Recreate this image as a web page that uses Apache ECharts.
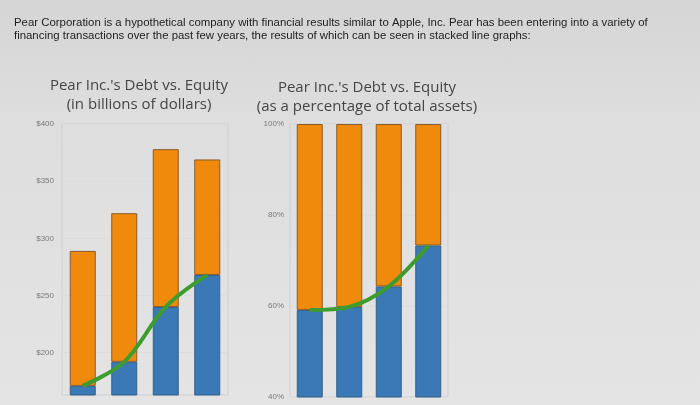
<!DOCTYPE html>
<html>
<head>
<meta charset="utf-8">
<script src="https://cdn.jsdelivr.net/npm/echarts@6/dist/echarts.min.js"></script>
<style>
  html, body { margin: 0; padding: 0; }
  body { background: linear-gradient(180deg, #d5d5d5 0%, #dedede 30%, #e4e4e4 100%); }
  #main { width: 700px; height: 405px; }
</style>
</head>
<body>
<div id="main"></div>
<script>
// data
var years = ['Y1', 'Y2', 'Y3', 'Y4'];
var debtDollars = [171, 192, 240, 268];     // blue, billions
var equityDollars = [118, 130, 138, 101];   // orange, billions
var debtPct = [59.1, 59.8, 64.3, 73.3];     // blue, % of total assets
var equityPct = [40.9, 40.2, 35.7, 26.7];   // orange
var dollarTicks = [200, 250, 300, 350, 400];
var introText = 'Pear Corporation is a hypothetical company with financial results similar to Apple, Inc. Pear has been entering into a variety of\n' +
  'financing transactions over the past few years, the results of which can be seen in stacked line graphs:';

var orange = '#ef8a0c', blue = '#3b79b6', green = '#3e9c2f';
var labelStyle = { color: '#7a7a7a', fontSize: 8, fontFamily: 'Liberation Sans' };

function barSeries(idx, stack, data, color, border) {
  return {
    type: 'bar', xAxisIndex: idx, yAxisIndex: idx, stack: stack,
    data: data, barWidth: 26, silent: true,
    itemStyle: { color: color, borderColor: border, borderWidth: 1 }
  };
}
function lineSeries(idx, data) {
  return {
    type: 'line', xAxisIndex: idx, yAxisIndex: idx, data: data,
    smooth: 0.35, symbol: 'none', z: 5, silent: true,
    lineStyle: { color: green, width: 4 }
  };
}
function gridBox(left, width, bottom) {
  return { left: left, width: width, top: 124, bottom: bottom, show: true,
    borderColor: '#cfcfcf', borderWidth: 1, backgroundColor: 'transparent' };
}

var chart = echarts.init(document.getElementById('main'), null, { renderer: 'canvas' });
var option = {
  animation: false,
  title: [
    { text: introText, left: 9, top: 11,
      textStyle: { fontSize: 11.4, fontWeight: 'normal', color: '#222', fontFamily: 'Liberation Sans', lineHeight: 13 } },
    { text: "Pear Inc.'s Debt vs. Equity\n(in billions of dollars)", left: 134, top: 71, textAlign: 'center',
      textStyle: { fontSize: 15, fontWeight: 'normal', color: '#454545', fontFamily: 'Open Sans', lineHeight: 19, align: 'center' } },
    { text: "Pear Inc.'s Debt vs. Equity\n(as a percentage of total assets)", left: 362, top: 73, textAlign: 'center',
      textStyle: { fontSize: 15, fontWeight: 'normal', color: '#454545', fontFamily: 'Open Sans', lineHeight: 19, align: 'center' } }
  ],
  grid: [ gridBox(62, 166, 10), gridBox(290, 158, 8) ],
  xAxis: [0, 1].map(function (i) {
    return { type: 'category', gridIndex: i, data: years,
      axisLine: { show: false }, axisTick: { show: false }, axisLabel: { show: false } };
  }),
  yAxis: [
    { type: 'value', gridIndex: 0, min: 163, max: 400,
      axisTick: { show: false, customValues: dollarTicks },
      axisLabel: Object.assign({ formatter: '${value}', margin: 8, customValues: dollarTicks }, labelStyle),
      splitLine: { lineStyle: { color: '#dcdcdc' } } },
    { type: 'value', gridIndex: 1, min: 40, max: 100, interval: 20,
      axisLabel: Object.assign({ formatter: '{value}%', margin: 6 }, labelStyle),
      splitLine: { lineStyle: { color: '#dcdcdc' } } }
  ],
  series: [
    barSeries(0, 'd', debtDollars, blue, '#35608a'),
    barSeries(0, 'd', equityDollars, orange, '#8a5a2a'),
    lineSeries(0, debtDollars),
    barSeries(1, 'p', debtPct, blue, '#35608a'),
    barSeries(1, 'p', equityPct, orange, '#8a5a2a'),
    lineSeries(1, debtPct)
  ]
};
chart.setOption(option);
</script>
</body>
</html>
